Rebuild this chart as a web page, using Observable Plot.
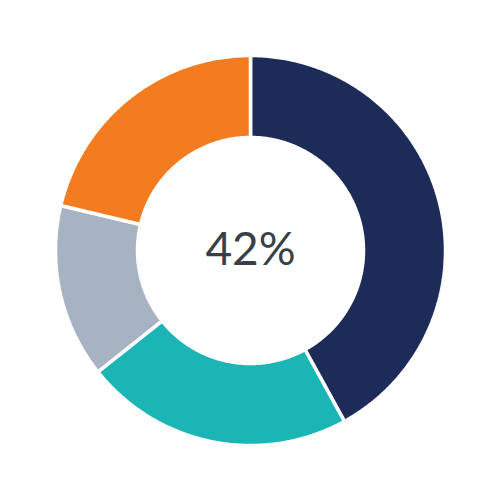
<!DOCTYPE html>
<html>
<head>
<meta charset="utf-8">
<script src="https://cdn.jsdelivr.net/npm/d3@7"></script>
<script src="https://cdn.jsdelivr.net/npm/@observablehq/plot@0.6"></script>
<style>
  html, body { margin: 0; padding: 0; background: #fff; }
  #chart { width: 500px; height: 500px; }
</style>
</head>
<body>
<div id="chart"></div>
<script>
// Data
const categories = ["Segment A", "Segment B", "Segment C", "Segment D"];
const values = [42, 22.3, 14.4, 21.3];
const colors = ["#1d2b59", "#1cb5b6", "#a7b3c2", "#f47c20"];
const centerLabel = ["42%"];

// Layout
const W = 500, H = 500;
const outerR = 195, innerR = 113;

const table = categories.map((c, i) => ({key: c, value: values[i]}));
const arcs = d3.pie().sort(null).value(d => d.value).startAngle(0).endAngle(2 * Math.PI)(table);

// Build polygon outline for each slice (derived from pie angles)
const pts = [];
for (const a of arcs) {
  const n = Math.max(8, Math.ceil((a.endAngle - a.startAngle) / 0.01));
  for (let k = 0; k <= n; k++) {
    const t = a.startAngle + (a.endAngle - a.startAngle) * k / n;
    pts.push({key: a.data.key, x: outerR * Math.sin(t), y: outerR * Math.cos(t)});
  }
  for (let k = n; k >= 0; k--) {
    const t = a.startAngle + (a.endAngle - a.startAngle) * k / n;
    pts.push({key: a.data.key, x: innerR * Math.sin(t), y: innerR * Math.cos(t)});
  }
}

const chart = Plot.plot({
  width: W,
  height: H,
  margin: 0,
  x: {domain: [-W / 2, W / 2], axis: null},
  y: {domain: [-H / 2, H / 2], axis: null},
  color: {domain: categories, range: colors},
  style: {background: "#fff"},
  marks: [
    Plot.line(pts, {
      x: "x", y: "y", z: "key", fill: "key",
      stroke: "#fff", strokeWidth: 3.5, curve: "linear-closed", strokeLinejoin: "miter"
    }),
    Plot.text(centerLabel, {
      text: d => d, frameAnchor: "middle", textAnchor: "middle", lineAnchor: "middle",
      fontSize: 46, fill: "#3a3f47", fontFamily: "Lato", fontWeight: 400
    })
  ]
});
document.getElementById("chart").appendChild(chart);
</script>
</body>
</html>
